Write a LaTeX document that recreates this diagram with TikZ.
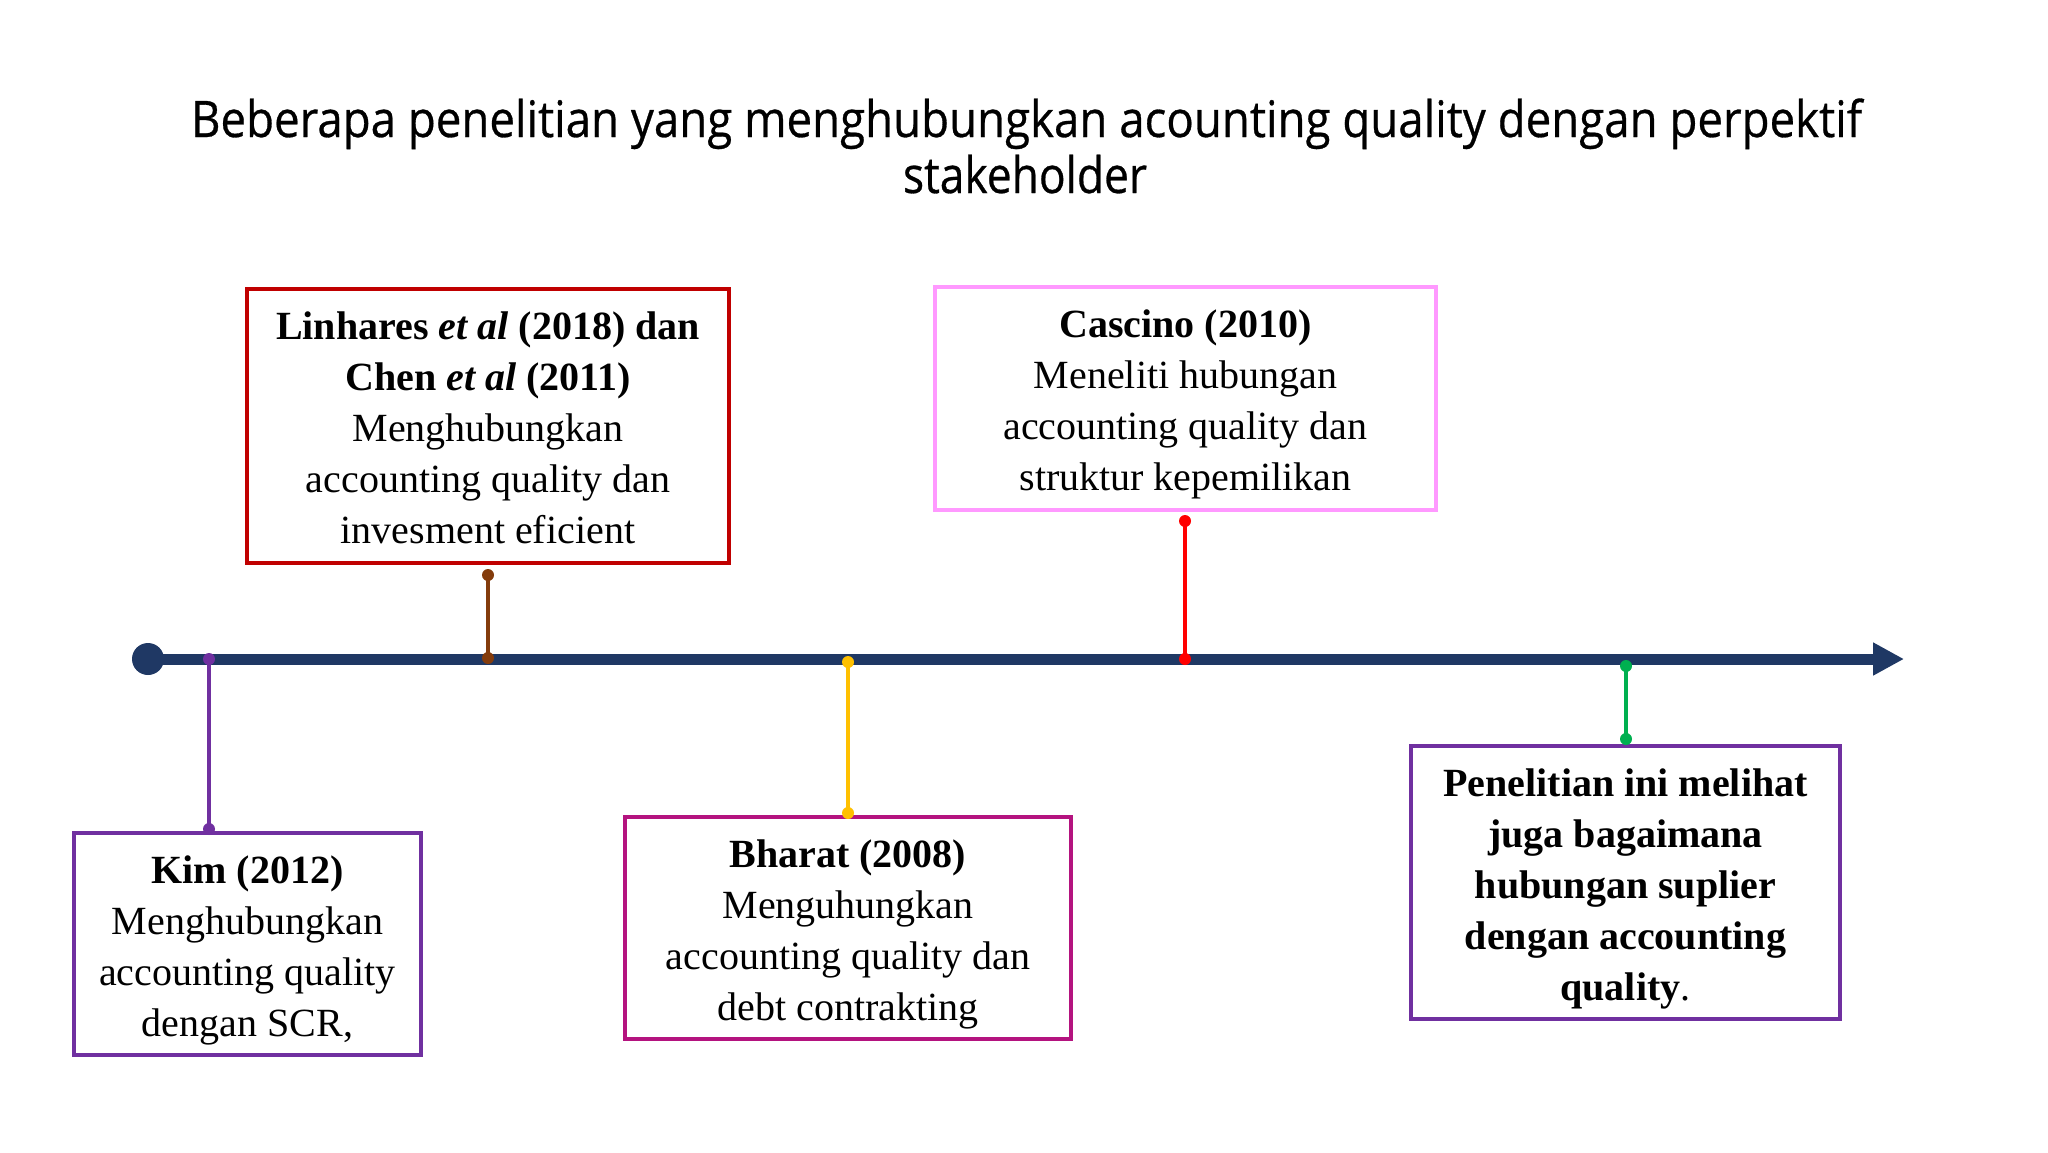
\documentclass[tikz,border=0pt]{standalone}
\usepackage{fontspec}
\usepackage{graphicx}
\setmainfont{Liberation Serif}
\newfontfamily\titlefont[FakeBold=0.6]{Open Sans}
\usetikzlibrary{arrows.meta}
\definecolor{navy}{RGB}{31,56,100}
\definecolor{boxred}{RGB}{192,0,0}
\definecolor{boxpink}{RGB}{255,153,255}
\definecolor{boxmag}{RGB}{180,19,127}
\definecolor{lpurple}{RGB}{112,48,160}
\definecolor{lbrown}{RGB}{132,60,12}
\definecolor{lyellow}{RGB}{255,192,0}
\definecolor{lred}{RGB}{255,0,0}
\definecolor{lgreen}{RGB}{0,176,80}
\newcommand\topst{\rule{0pt}{25.2pt}}
\newcommand\botst{\rule[-9.6pt]{0pt}{9.6pt}}
\begin{document}
\begin{tikzpicture}[x=0.5pt,y=-0.5pt,
  card/.style={draw, line width=2pt, fill=white, align=center, inner sep=0pt,
    font=\fontsize{20pt}{25.5pt}\selectfont},
  titletext/.style={anchor=base, inner sep=0pt, font=\titlefont\fontsize{25.2pt}{30pt}\selectfont},
  link/.style={line width=2pt}]
\useasboundingbox (0,0) rectangle (2048,1152);
\fill[white] (0,0) rectangle (2048,1152);

% title
\node[titletext] (t1) at (1026.5,137) {\resizebox{835.5pt}{\height}{Beberapa penelitian yang menghubungkan acounting quality dengan perpektif}};
\node[titletext] (t2) at (1025,193) {\resizebox{122pt}{\height}{stakeholder}};

% timeline
\coordinate (tl0) at (148,659);
\coordinate (tl1) at (1904,659);
\draw[navy, line width=5.5pt, -{Triangle[length=15.5pt,width=15.5pt]}] (tl0) -- (tl1);
\fill[navy] (tl0) circle[radius=8pt];

% boxes
\node[card, draw=boxred, minimum width=241pt, minimum height=135pt] (b1) at (488,426)
  {\topst\textbf{Linhares \textit{et al} (2018) dan}\\ \textbf{Chen \textit{et al} (2011)}\\ Menghubungkan\\ accounting quality dan\\ invesment eficient\botst};
\node[card, draw=boxpink, minimum width=250.5pt, minimum height=109.5pt] (b2) at (1185.5,398.5)
  {\topst\textbf{Cascino (2010)}\\ Meneliti hubungan\\ accounting quality dan\\ struktur kepemilikan\botst};
\node[card, draw=lpurple, minimum width=173.5pt, minimum height=110pt] (b3) at (247.5,944)
  {\topst\textbf{Kim (2012)}\\ Menghubungkan\\ accounting quality\\ dengan SCR,\botst};
\node[card, draw=boxmag, minimum width=223pt, minimum height=109pt] (b4) at (848,928)
  {\topst\textbf{Bharat (2008)}\\ Menguhungkan\\ accounting quality dan\\ debt contrakting\botst};
\node[card, draw=lpurple, minimum width=214.5pt, minimum height=134.5pt] (b5) at (1625.5,882.5)
  {\topst\textbf{Penelitian ini melihat}\\ \textbf{juga bagaimana}\\ \textbf{hubungan suplier}\\ \textbf{dengan accounting}\\ \textbf{quality}.\botst};

% connectors
\coordinate (k1) at (209,659);  \coordinate (k2) at (209,829);
\coordinate (l1) at (488,575);  \coordinate (l2) at (488,658);
\coordinate (y1) at (848,662);  \coordinate (y2) at (848,813);
\coordinate (r1) at (1185,521); \coordinate (r2) at (1185,659);
\coordinate (g1) at (1626,666); \coordinate (g2) at (1626,739);

\draw[link, lpurple] (k1) -- (k2);
\fill[lpurple] (k1) circle[radius=3pt] (k2) circle[radius=3pt];
\draw[link, lbrown] (l1) -- (l2);
\fill[lbrown] (l1) circle[radius=3pt] (l2) circle[radius=3pt];
\draw[link, lyellow] (y1) -- (y2);
\fill[lyellow] (y1) circle[radius=3pt] (y2) circle[radius=3pt];
\draw[link, lred] (r1) -- (r2);
\fill[lred] (r1) circle[radius=3pt] (r2) circle[radius=3pt];
\draw[link, lgreen] (g1) -- (g2);
\fill[lgreen] (g1) circle[radius=3pt] (g2) circle[radius=3pt];
\end{tikzpicture}
\end{document}
